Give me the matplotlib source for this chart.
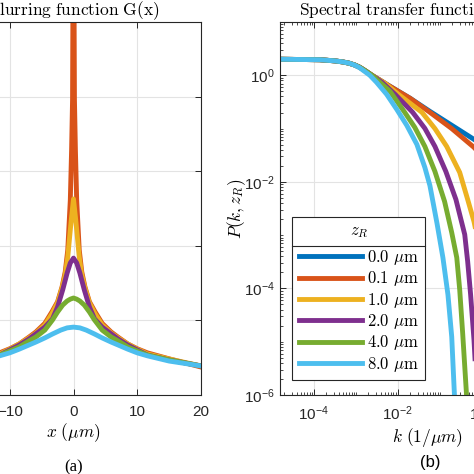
import numpy as np
import matplotlib.pyplot as plt
from matplotlib.lines import Line2D
from matplotlib.ticker import LogLocator, NullFormatter, FuncFormatter

plt.rcParams['font.family'] = 'Liberation Sans'
plt.rcParams['mathtext.fontset'] = 'cm'
plt.rcParams['mathtext.rm'] = 'Liberation Sans'
plt.rcParams['mathtext.it'] = 'Liberation Sans:italic'

# MATLAB default colours
colors = ['#0072BD', '#D95319', '#EDB120', '#7E2F8E', '#77AC30', '#4DBEEE']
z_labels = ['0.0', '0.1', '1.0', '2.0', '4.0', '8.0']

# ---- (a) blurring function G(x), arbitrary linear units ----
x_01 = [-20, -15, -11.6, -10, -8.5, -7, -5.9, -4.5, -3.4, -2.5, -1.8, -1.3, -0.9, -0.5, -0.3, -0.15, -0.1, 0,
        0.1, 0.15, 0.3, 0.5, 0.9, 1.3, 1.8, 2.5, 3.4, 4.5, 5.9, 7, 8.5, 10, 11.6, 15, 20]
g_01 = [0.075, 0.097, 0.113, 0.124, 0.137, 0.155, 0.169, 0.192, 0.2225, 0.250, 0.2895, 0.330, 0.389, 0.523,
        0.657, 0.791, 1.0, 3.0,
        1.0, 0.791, 0.657, 0.523, 0.389, 0.330, 0.2895, 0.250, 0.2225, 0.192, 0.169, 0.155, 0.137, 0.124,
        0.113, 0.097, 0.075]

x_10 = [-20, -15, -11.6, -10, -8.5, -7, -5.9, -4.5, -3.4, -2.5, -1.8, -1.3, -0.9, -0.4, 0,
        0.4, 0.9, 1.3, 1.8, 2.5, 3.4, 4.5, 5.9, 7, 8.5, 10, 11.6, 15, 20]
g_10 = [0.078, 0.0965, 0.110, 0.123, 0.137, 0.153, 0.166, 0.188, 0.217, 0.247, 0.287, 0.322, 0.370, 0.461,
        0.5255,
        0.461, 0.370, 0.322, 0.287, 0.247, 0.217, 0.188, 0.166, 0.153, 0.137, 0.123, 0.110, 0.0965, 0.078]

x_20 = [-20, -15, -11.6, -10, -8.5, -7, -5.9, -4.5, -3.3, -2.5, -1.7, -1.0, -0.5, 0,
        0.5, 1.0, 1.7, 2.5, 3.3, 4.5, 5.9, 7, 8.5, 10, 11.6, 15, 20]
g_20 = [0.078, 0.094, 0.107, 0.121, 0.134, 0.150, 0.164, 0.182, 0.204, 0.236, 0.2815, 0.327, 0.354, 0.367,
        0.354, 0.327, 0.2815, 0.236, 0.204, 0.182, 0.164, 0.150, 0.134, 0.121, 0.107, 0.094, 0.078]

x_40 = [-20, -15, -11.6, -10, -8.5, -7, -5.9, -4.5, -3.3, -2.5, -1.7, -1, -0.5, 0,
        0.5, 1, 1.7, 2.5, 3.3, 4.5, 5.9, 7, 8.5, 10, 11.6, 15, 20]
g_40 = [0.078, 0.094, 0.107, 0.118, 0.129, 0.145, 0.1555, 0.174, 0.201, 0.2225, 0.241, 0.252, 0.257, 0.260,
        0.257, 0.252, 0.241, 0.2225, 0.201, 0.174, 0.1555, 0.145, 0.129, 0.118, 0.107, 0.094, 0.078]

x_80 = [-20, -15, -11.6, -10, -8.5, -7, -5.9, -4.5, -3.3, -2, -1, 0, 1, 2, 3.3, 4.5, 5.9, 7, 8.5, 10, 11.6, 15, 20]
g_80 = [0.078, 0.091, 0.105, 0.113, 0.123, 0.134, 0.142, 0.153, 0.1635, 0.174, 0.180, 0.182,
        0.180, 0.174, 0.1635, 0.153, 0.142, 0.134, 0.123, 0.113, 0.105, 0.091, 0.078]

# ---- (b) spectral transfer function, log10(k) and log10(P) ----
lk_00 = [-4.80, -3.85, -3.49, -3.30, -3.15, -3.02, -2.90, -2.76, -2.61, -2.40, -2.18, -1.70, -1.23, -0.18, 0.20]
lp_00 = [0.301, 0.292, 0.270, 0.250, 0.226, 0.193, 0.150, 0.080, 0.0, -0.100, -0.207, -0.432, -0.677,
         -1.203, -1.391]

lk_01 = [-4.80, -3.85, -3.49, -3.30, -3.15, -3.02, -2.90, -2.76, -2.61, -2.40, -2.18, -1.70, -1.23, -0.71,
         -0.18, 0.20]
lp_01 = [0.301, 0.292, 0.270, 0.250, 0.226, 0.193, 0.150, 0.080, 0.0, -0.100, -0.207, -0.432, -0.695, -1.00,
         -1.353, -1.673]

lk_10 = [-4.80, -3.85, -3.49, -3.30, -3.15, -3.02, -2.90, -2.76, -2.61, -2.30, -1.95, -1.42, -1.11, -0.83,
         -0.52, -0.33, -0.18, -0.04, 0.20]
lp_10 = [0.301, 0.292, 0.270, 0.250, 0.226, 0.193, 0.150, 0.080, 0.0, -0.150, -0.376, -0.695, -1.00, -1.335,
         -1.823, -2.331, -2.744, -3.27, -4.58]

lk_20 = [-4.80, -3.85, -3.49, -3.30, -3.15, -3.02, -2.90, -2.76, -2.61, -2.37, -2.06, -1.64, -1.35, -1.11,
         -0.85, -0.61, -0.40, -0.33, -0.26, -0.18, -0.09]
lp_20 = [0.301, 0.292, 0.270, 0.250, 0.226, 0.193, 0.150, 0.080, 0.0, -0.132, -0.357, -0.695, -0.996, -1.335,
         -1.805, -2.331, -2.989, -3.496, -4.117, -4.962, -6.278]

lk_40 = [-4.80, -3.85, -3.49, -3.30, -3.15, -3.02, -2.90, -2.76, -2.61, -2.42, -2.18, -1.83, -1.59, -1.35,
         -1.11, -0.88, -0.71, -0.59, -0.52, -0.45, -0.35]
lp_40 = [0.301, 0.292, 0.270, 0.250, 0.226, 0.193, 0.150, 0.080, 0.0, -0.132, -0.301, -0.695, -0.977, -1.335,
         -1.805, -2.368, -2.951, -3.421, -4.023, -4.831, -6.090]

lk_80 = [-4.80, -3.85, -3.49, -3.30, -3.15, -3.02, -2.90, -2.78, -2.66, -2.50, -2.26, -2.02, -1.78, -1.54,
         -1.35, -1.23, -1.06, -0.92, -0.80, -0.71, -0.64]
lp_80 = [0.301, 0.292, 0.270, 0.250, 0.226, 0.190, 0.140, 0.070, 0.0, -0.132, -0.357, -0.639, -0.940, -1.297,
         -1.729, -2.068, -2.781, -3.421, -4.117, -4.906, -6.090]

g_x = [None, x_01, x_10, x_20, x_40, x_80]
g_y = [None, g_01, g_10, g_20, g_40, g_80]
p_k = [lk_00, lk_01, lk_10, lk_20, lk_40, lk_80]
p_v = [lp_00, lp_01, lp_10, lp_20, lp_40, lp_80]

fig = plt.figure(figsize=(4.74, 4.74), dpi=100)
ax1 = fig.add_axes([-54 / 474, 79 / 474, 255 / 474, 373 / 474])
ax2 = fig.add_axes([280 / 474, 79 / 474, 296 / 474, 373 / 474])

lw = 3.5
for i in range(1, 6):
    ax1.plot(g_x[i], g_y[i], color=colors[i], lw=lw, solid_joinstyle='round')
for i in range(6):
    ax2.plot(10 ** np.array(p_k[i]), 10 ** np.array(p_v[i]), color=colors[i], lw=lw,
             solid_joinstyle='round', label=r'$\mathrm{%s}\ \mu\mathrm{m}$' % z_labels[i])

for ax in (ax1, ax2):
    ax.grid(True, color='#e3e3e3', lw=0.8)
    ax.set_axisbelow(True)
    for s in ax.spines.values():
        s.set_color('#262626')
        s.set_linewidth(0.8)
    ax.tick_params(direction='in', top=True, right=True, labelsize=11, pad=7,
                   colors='#262626', length=4, width=0.7)
    ax.tick_params(which='minor', direction='in', top=True, right=True, length=2, width=0.5)
ax2.tick_params(axis='y', pad=4)

ax1.set_xlim(-20, 20)
ax1.set_ylim(0, 1)
ax1.set_xticks([-20, -10, 0, 10, 20])
ax1.set_yticks(np.arange(0, 1.01, 0.2))
ax1.set_title(r'$\mathrm{Blurring\ function\ G(x)}$', fontsize=12.5, pad=4)
ax1.set_xlabel(r'$x\ (\mu m)$', fontsize=12.5, labelpad=2)

ax2.set_xscale('log')
ax2.set_yscale('log')
ax2.set_xlim(10 ** -4.8, 10 ** 2.25)
ax2.set_ylim(1e-6, 10)
ax2.set_xticks([1e-4, 1e-2, 1e0, 1e2])
ax2.set_yticks([1e-6, 1e-4, 1e-2, 1e0])
fmt = FuncFormatter(lambda v, p: r'$\mathregular{10^{%d}}$' % round(np.log10(v)))
ax2.xaxis.set_major_formatter(fmt)
ax2.yaxis.set_major_formatter(fmt)
ax2.xaxis.set_minor_locator(LogLocator(base=10, subs=np.arange(1, 10), numticks=100))
ax2.yaxis.set_minor_locator(LogLocator(base=10, subs=np.arange(1, 10), numticks=100))
ax2.xaxis.set_minor_formatter(NullFormatter())
ax2.yaxis.set_minor_formatter(NullFormatter())
ax2.set_title(r'$\mathrm{Spectral\ transfer\ function\ P(k,z_R)}$', fontsize=12.5, pad=4)
ax2.set_xlabel(r'$k\ (1/\mu m)$', fontsize=12.5, labelpad=2)
ax2.set_ylabel(r'$P(k, z_R)$', fontsize=12.5, labelpad=-3)

leg = ax2.legend(title=r'$z_R$', loc='lower left', bbox_to_anchor=(0.042, 0.04),
                 borderaxespad=0, fontsize=12, title_fontsize=12, handlelength=3.8,
                 handletextpad=0.3, labelspacing=0.14, borderpad=0.38, fancybox=False,
                 framealpha=1, edgecolor='#262626')
leg.get_frame().set_linewidth(0.8)
leg._legend_box.sep = 5.5  # extra room between title and entries

fig.canvas.draw()
for lab in ax2.get_xticklabels() + ax2.get_yticklabels():
    lab.set_math_fontfamily('custom')
fig.canvas.draw()

# separator line under the legend title
fb = leg.get_frame().get_window_extent()
tb = leg.get_title().get_window_extent()
yl = (tb.y0 - 6) / fig.bbox.height
fig.add_artist(Line2D([fb.x0 / fig.bbox.width, fb.x1 / fig.bbox.width], [yl, yl],
                      color='#262626', lw=0.8, transform=fig.transFigure))

fig.text(74 / 474, 1 - 467 / 474, '(a)', ha='center', va='center', fontsize=12, family='Liberation Serif')
fig.text(430 / 474, 1 - 463 / 474, '(b)', ha='center', va='center', fontsize=12)

fig.savefig('out.png', dpi=100)
